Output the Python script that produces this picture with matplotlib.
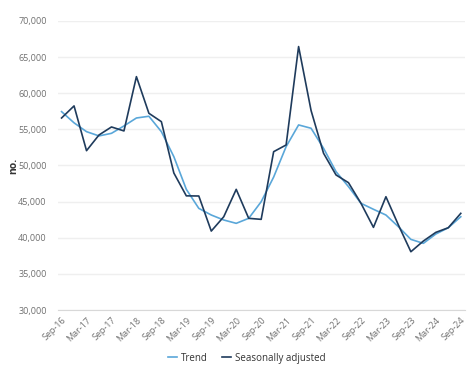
import matplotlib
matplotlib.use('Agg')
import matplotlib.pyplot as plt
from matplotlib.ticker import FuncFormatter

plt.rcParams['font.family'] = ['Open Sans', 'DejaVu Sans']

# quarterly, Sep-16 .. Sep-24
quarters = ['Sep-16', 'Dec-16', 'Mar-17', 'Jun-17', 'Sep-17', 'Dec-17', 'Mar-18', 'Jun-18',
            'Sep-18', 'Dec-18', 'Mar-19', 'Jun-19', 'Sep-19', 'Dec-19', 'Mar-20', 'Jun-20',
            'Sep-20', 'Dec-20', 'Mar-21', 'Jun-21', 'Sep-21', 'Dec-21', 'Mar-22', 'Jun-22',
            'Sep-22', 'Dec-22', 'Mar-23', 'Jun-23', 'Sep-23', 'Dec-23', 'Mar-24', 'Jun-24',
            'Sep-24']

trend = [57450, 55900, 54680, 54090, 54450, 55470, 56570, 56810,
         54680, 51220, 46700, 44070, 43150, 42460, 42000, 42690,
         44990, 48400, 52610, 55610, 55150, 52380, 49150, 47070,
         44770, 43940, 43150, 41530, 39780, 39230, 40520, 41390,
         42910]

seas_adj = [56570, 58240, 52050, 54220, 55330, 54780, 62290, 57220,
            56060, 48960, 45800, 45780, 40930, 42910, 46700, 42690,
            42550, 51910, 52840, 66450, 57600, 51690, 48690, 47620,
            44770, 41440, 45680, 41770, 38070, 39550, 40750, 41390,
            43380]

x = list(range(len(quarters)))

fig = plt.figure(figsize=(4.74, 3.80), dpi=100)
ax = fig.add_axes([0.122, 0.184, 0.858, 0.761])

ax.plot(x, trend, color='#5aa7d9', lw=1.2, label='Trend')
ax.plot(x, seas_adj, color='#1f3b5c', lw=1.2, label='Seasonally adjusted')

ax.set_ylim(30000, 70000)
ax.set_yticks(range(30000, 70001, 5000))
ax.yaxis.set_major_formatter(FuncFormatter(lambda v, p: f'{int(v):,}'))
ax.set_xlim(-0.3, len(x) - 0.7)
ax.set_xticks(x[::2])
ax.set_xticklabels(quarters[::2], rotation=45, ha='right', rotation_mode='anchor')

ax.grid(axis='y', color='#efefef', lw=1)
ax.set_axisbelow(True)
for s in ['top', 'right', 'left']:
    ax.spines[s].set_visible(False)
ax.spines['bottom'].set_color('#d8d8d8')
ax.tick_params(axis='both', length=0, labelsize=6.5, colors='#707070')
ax.tick_params(axis='y', pad=8)
ax.tick_params(axis='x', pad=4)

ax.set_ylabel('no.', fontsize=7.5, fontweight='bold', color='#333333')
ax.yaxis.set_label_coords(-0.095, 0.5)

fig.legend(loc='lower center', bbox_to_anchor=(0.52, 0.02), ncol=2, frameon=False,
           fontsize=7, handlelength=0.9, columnspacing=1.5, handletextpad=0.4,
           labelcolor='#333333')

fig.savefig('out.png', dpi=100)
